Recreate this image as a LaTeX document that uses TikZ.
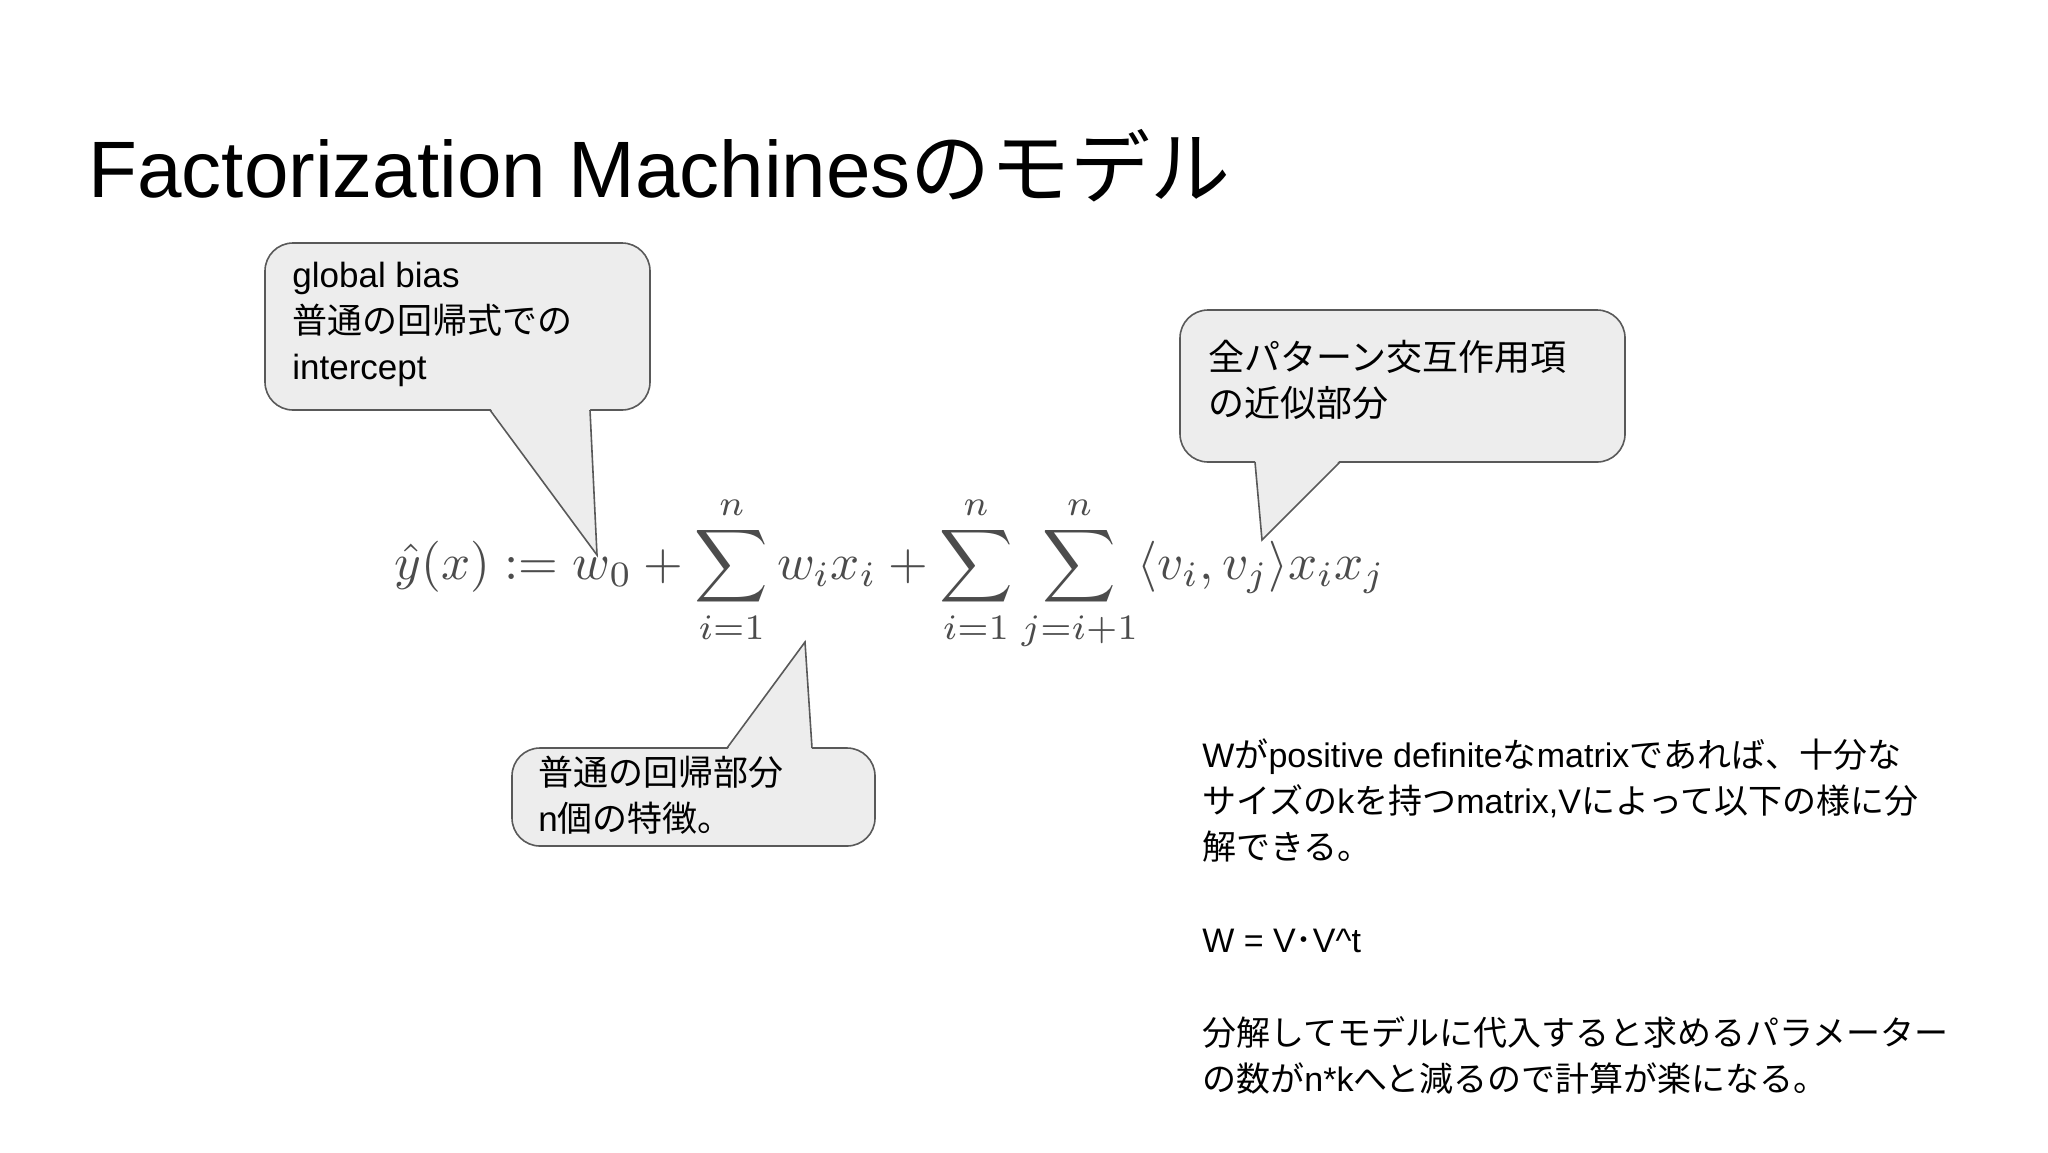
\documentclass[tikz,border=0pt]{standalone}
\usepackage{fontspec}
\setmainfont{Liberation Sans}
\newfontfamily\jp{Noto Sans CJK JP}
\usepackage{amsmath}
\begin{document}
\begin{tikzpicture}[x=0.5pt,y=-0.5pt,
  callout/.style={draw=black!65,fill=black!7,rounded corners=14pt,line width=0.8pt},
  ctext/.style={anchor=north west,align=left,font=\fontsize{17.5pt}{23pt}\selectfont,inner sep=0pt},
  ptr/.style={fill=black!7,draw=none},
  ptrl/.style={draw=black!65,line width=0.8pt}]
\useasboundingbox (0,0) rectangle (2048,1152);
\fill[white] (0,0) rectangle (2048,1152);
\node[anchor=base west,inner sep=0pt,font=\fontsize{40pt}{48pt}\selectfont] (title) at (88,197) {Factorization Machines{\jp のモデル}};
% formula
\node[inner sep=0pt,text=black!70] (eq) at (890,573) {\resizebox{495pt}{!}{$\displaystyle \hat{y}(x):=w_0+\sum_{i=1}^{n} w_i x_i+\sum_{i=1}^{n}\sum_{j=i+1}^{n}\langle v_i,v_j\rangle x_i x_j$}};
% callout 1
\draw[callout] (265,243) rectangle (650,410);
\coordinate (t1) at (597,555);
\fill[ptr] (490,408) -- (t1) -- (590,408) -- cycle;
\draw[ptrl] (490,410) -- (t1) -- (590,410);
\node[ctext] (c1) at (292,262) {global bias\\{\jp 普通の回帰式での}\\intercept};
% callout 2
\draw[callout] (1180,310) rectangle (1625,462);
\coordinate (t2) at (1262,540);
\fill[ptr] (1255,460) -- (t2) -- (1340,460) -- cycle;
\draw[ptrl] (1255,462) -- (t2) -- (1340,462);
\node[ctext,font=\jp\fontsize{18pt}{23pt}\selectfont] (c2) at (1208,340) {全パターン交互作用項\\の近似部分};
% callout 3
\draw[callout] (512,748) rectangle (875,846);
\coordinate (t3) at (805,642);
\fill[ptr] (727,750) -- (t3) -- (812,750) -- cycle;
\draw[ptrl] (727,748) -- (t3) -- (812,748);
\node[ctext] (c3) at (538,756) {{\jp 普通の回帰部分}\\n{\jp 個の特徴。}};
% right text
\node[ctext,font=\fontsize{17pt}{23.2pt}\selectfont] (rt) at (1202,738) {W{\jp が}positive definite{\jp な}matrix{\jp であれば、十分な}\\{\jp サイズの}k{\jp を持つ}matrix,V{\jp によって以下の様に分}\\{\jp 解できる。}\\[23.2pt]W = V{\jp ･}V\^{}t\\[23.2pt]{\jp 分解してモデルに代入すると求めるパラメーター}\\{\jp の数が}n*k{\jp へと減るので計算が楽になる。}};
\end{tikzpicture}
\end{document}
